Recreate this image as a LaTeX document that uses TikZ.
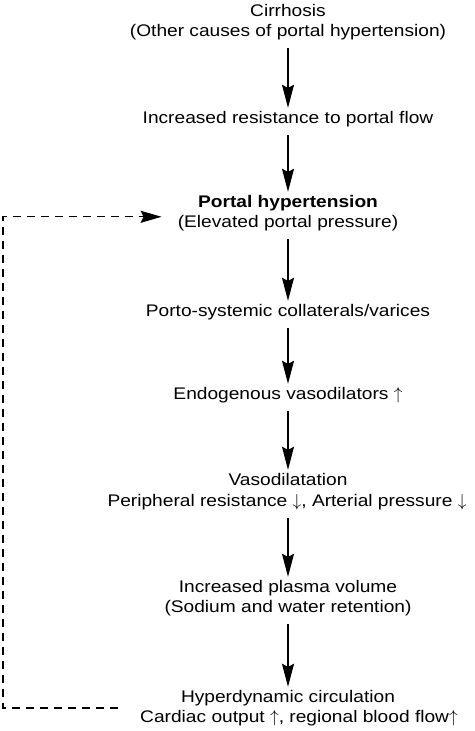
\documentclass[tikz,border=0pt]{standalone}
\usepackage{fontspec}
\setmainfont{Liberation Sans}[FakeStretch=1.14]
\usetikzlibrary{arrows.meta}

\tikzset{
  stage/.style={inner sep=0pt, text height=12pt, text depth=4pt, anchor=base,
    font=\fontsize{16.8}{20}\selectfont},
  flow/.style={line width=1.3pt, -{Stealth[length=23pt, width=12pt, inset=3pt]},
    shorten <=8pt, shorten >=3pt},
  feedback/.style={line width=1.3pt, -{Stealth[length=21pt, width=12pt, inset=3pt]},
    dash pattern=on 8pt off 6pt}
}

\begin{document}
\begin{tikzpicture}[x=1pt, y=1pt]
\useasboundingbox (0,0) rectangle (474,-731);
% stages of the cascade
\node[stage] (cirrhosis) at (288,-16) {Cirrhosis};
\node[stage] (causes) at (288,-36) {(Other causes of portal hypertension)};
\node[stage] (resist) at (288,-123) {Increased resistance to portal flow};
\node[stage] (portal) at (288,-207) {\bfseries Portal hypertension};
\node[stage] (elevated) at (288,-227) {(Elevated portal pressure)};
\node[stage] (porto) at (288,-316) {Porto-systemic collaterals/varices};
\node[stage] (endo) at (288,-399) {Endogenous vasodilators $\uparrow$};
\node[stage] (vaso) at (288,-485) {Vasodilatation};
\node[stage] (periph) at (287,-506) {Peripheral resistance $\downarrow$, Arterial pressure $\downarrow$};
\node[stage] (plasma) at (288,-592) {Increased plasma volume};
\node[stage] (sodium) at (288,-612) {(Sodium and water retention)};
\node[stage] (hyper) at (288,-702) {Hyperdynamic circulation};
\node[stage] (cardiac) at (299,-722) {Cardiac output $\uparrow$, regional blood flow$\uparrow$};

% arrows down the column
\draw[flow] (causes.south) -- (resist.north);
\draw[flow] (resist.south) -- (portal.north);
\draw[flow] (elevated.south) -- (porto.north);
\draw[flow] (porto.south) -- (endo.north);
\draw[flow] (endo.south) -- (vaso.north);
\draw[flow] ([xshift=1pt]periph.south) -- (plasma.north);
\draw[flow] (sodium.south) -- (hyper.north);

% feedback loop
\coordinate (loopstart) at (118,-708);
\draw[feedback] (loopstart) -- (3,-708) |- ([xshift=-16pt, yshift=-2pt]elevated.north west);
\end{tikzpicture}
\end{document}
